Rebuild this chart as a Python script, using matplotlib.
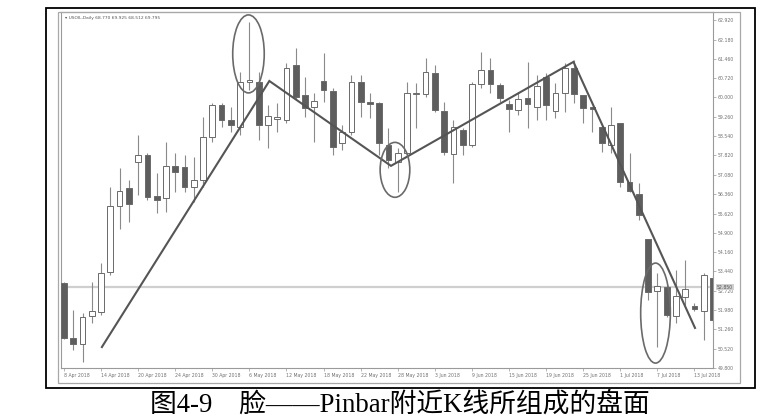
import matplotlib
matplotlib.use('Agg')
import matplotlib.pyplot as plt
from matplotlib.patches import Rectangle, Ellipse

# ---------------- data ----------------
opens = [53.00, 50.93, 50.70, 51.76, 51.91, 53.42, 55.91, 56.59, 57.57, 57.83,
         56.29, 56.21, 57.42, 57.38, 56.63, 56.89, 58.51, 59.72, 59.15, 58.89,
         60.58, 60.58, 58.96, 59.19, 59.15, 61.23, 60.09, 59.64, 60.62, 60.24,
         58.28, 58.70, 60.58, 59.83, 59.79, 58.21, 57.57, 57.91, 60.13, 60.13,
         60.92, 59.49, 57.87, 58.77, 58.21, 60.51, 61.04, 60.47, 59.75, 59.53,
         59.98, 59.64, 60.77, 59.49, 60.17, 61.11, 60.09, 59.60, 58.89, 58.21,
         59.04, 56.81, 56.36, 54.66, 52.70, 52.85, 51.76, 52.48, 52.14, 51.95,
         53.20]
highs = [53.05, 51.99, 51.87, 53.04, 53.76, 56.62, 57.34, 56.89, 58.59, 57.91,
         57.15, 58.32, 57.91, 57.83, 57.76, 59.26, 59.79, 59.79, 59.64, 60.96,
         62.85, 60.96, 59.72, 59.79, 61.30, 61.87, 60.77, 60.17, 61.68, 60.36,
         58.96, 60.85, 60.85, 60.17, 59.83, 58.85, 58.10, 60.58, 60.55, 61.49,
         61.23, 59.83, 59.15, 58.85, 60.58, 61.72, 61.49, 60.55, 59.91, 60.21,
         61.34, 60.85, 60.92, 60.55, 61.30, 61.41, 60.09, 59.64, 58.96, 59.64,
         59.04, 57.91, 56.78, 54.66, 53.38, 52.93, 53.49, 53.87, 52.25, 53.38,
         53.30]
lows = [50.90, 50.48, 50.03, 51.50, 51.80, 53.31, 55.04, 55.30, 56.32, 56.13,
        55.64, 55.68, 56.44, 56.44, 56.06, 56.63, 58.32, 58.89, 58.70, 58.59,
        60.28, 58.40, 58.10, 58.70, 59.04, 59.91, 59.26, 58.32, 59.83, 57.83,
        58.02, 58.59, 59.26, 59.23, 57.83, 57.34, 56.44, 57.83, 58.85, 60.02,
        59.45, 57.83, 56.78, 57.83, 58.13, 60.36, 60.17, 59.83, 58.70, 59.34,
        58.85, 59.15, 59.15, 59.23, 59.45, 59.79, 59.04, 58.70, 57.94, 57.91,
        56.63, 56.44, 55.38, 52.36, 50.59, 51.72, 51.50, 52.18, 51.95, 50.86,
        51.50]
closes = [50.93, 50.70, 51.72, 51.95, 53.38, 55.91, 56.47, 55.98, 57.83, 56.25,
          56.13, 57.42, 57.19, 56.63, 56.89, 58.51, 59.72, 59.15, 58.96, 60.58,
          60.66, 58.96, 59.30, 59.26, 61.11, 60.02, 59.60, 59.87, 60.28, 58.13,
          58.70, 60.58, 59.83, 59.75, 58.28, 57.64, 57.91, 60.17, 60.17, 60.96,
          59.53, 57.94, 58.89, 58.21, 60.51, 61.04, 60.51, 59.98, 59.57, 59.94,
          59.75, 60.43, 59.72, 60.17, 61.11, 60.13, 59.60, 59.57, 58.28, 58.96,
          56.81, 56.47, 55.57, 52.67, 52.89, 51.80, 52.51, 52.78, 52.02, 53.31,
          51.60]

price_labels = ["62.920", "62.180", "61.460", "60.720", "60.000", "59.260",
                "58.540", "57.820", "57.080", "56.360", "55.620", "54.900",
                "54.160", "53.440", "52.720", "51.980", "51.260", "50.520",
                "49.800"]
date_labels = ["8 Apr 2018", "14 Apr 2018", "20 Apr 2018", "24 Apr 2018",
               "30 Apr 2018", "6 May 2018", "12 May 2018", "18 May 2018",
               "22 May 2018", "28 May 2018", "3 Jun 2018", "9 Jun 2018",
               "15 Jun 2018", "19 Jun 2018", "25 Jun 2018", "1 Jul 2018",
               "7 Jul 2018", "13 Jul 2018"]
date_idx = list(range(0, 72, 4))[:len(date_labels)]

bid_price = 52.85
bid_label = "52.850"

# trend line vertices (bar index, price)
trend_x = [4.09, 22.15, 35.27, 54.95, 68.06]
trend_y = [50.59, 60.62, 57.42, 61.34, 51.31]

# ellipses (bar index, price, width in bars, height in price)
ell_x = [19.9, 35.7, 63.8]
ell_y = [61.64, 57.27, 51.87]
ell_w = [3.4, 3.2, 3.2]
ell_h = [2.94, 2.07, 3.77]

header = "\u25be USOIL,Daily 68.770 69.925 68.512 69.795"
caption = "图4-9\u3000脸——Pinbar附近K线所组成的盘面"

# ---------------- figure ----------------
W, H = 764, 420
fig = plt.figure(figsize=(W / 100, H / 100), dpi=100)
fig.patch.set_facecolor('white')


def fx(px):
    return px / W


def fy(py):
    return 1 - py / H


L, R, T, B = 61, 713, 12, 368
ax = fig.add_axes([fx(L), fy(B), fx(R) - fx(L), fy(T) - fy(B)])
ax.set_xlim(-0.32, 70.0)
ax.set_ylim(49.8, 63.22)

# bid line
ax.axhline(bid_price, color='#cfcfcf', lw=1.6, zorder=1)

for i, (o, h, l, c) in enumerate(zip(opens, highs, lows, closes)):
    ax.vlines(i, l, h, color='#8a8a8a', lw=0.8, zorder=2)
    bottom = min(o, c)
    height = max(abs(c - o), 0.05)
    face = 'white' if c >= o else '#5e5e5e'
    ax.add_patch(Rectangle((i - 0.31, bottom), 0.62, height, facecolor=face,
                           edgecolor='#6a6a6a', lw=0.7, zorder=3))

ax.plot(trend_x, trend_y, color='#555555', lw=1.5, zorder=4,
        solid_joinstyle='miter')

for x, y, w, h in zip(ell_x, ell_y, ell_w, ell_h):
    ax.add_patch(Ellipse((x, y), w, h, fill=False, edgecolor='#6a6a6a',
                         lw=1.2, zorder=5))

ax.text(0.006, 0.988, header, transform=ax.transAxes, fontsize=3.2,
        color='#555555', va='top', ha='left')

# axes styling
for s in ax.spines.values():
    s.set_color('#9a9a9a')
    s.set_linewidth(0.8)
ax.yaxis.tick_right()
ax.set_yticks([float(v) for v in price_labels])
ax.set_yticklabels(price_labels, fontsize=3.3, color='#707070')
ax.tick_params(axis='y', length=2, width=0.5, color='#999999', pad=1.5)
ax.set_xticks(date_idx)
ax.set_xticklabels(date_labels, fontsize=3.3, color='#707070', ha='left')
ax.tick_params(axis='x', length=2, width=0.5, color='#999999', pad=1.5)

# bid label box on the price scale
ax.text(1.006, bid_price, bid_label, transform=ax.get_yaxis_transform(),
        fontsize=3.3, color='#555555', va='center', ha='left',
        bbox=dict(boxstyle='square,pad=0.15', fc='#d0d0d0', ec='none'),
        zorder=6)

# frames
fig.add_artist(Rectangle((fx(58), fy(383)), fx(740) - fx(58),
                         fy(12) - fy(383), transform=fig.transFigure,
                         fill=False, ec='#a8a8a8', lw=0.9))
fig.add_artist(Rectangle((fx(46), fy(388)), fx(755) - fx(46),
                         fy(8) - fy(388), transform=fig.transFigure,
                         fill=False, ec='black', lw=1.3))

fig.text(fx(400), fy(405), caption, ha='center', va='center', fontsize=19.3,
         family=['Liberation Serif', 'Noto Sans CJK SC'], color='black')

fig.savefig('out.png', dpi=100)
